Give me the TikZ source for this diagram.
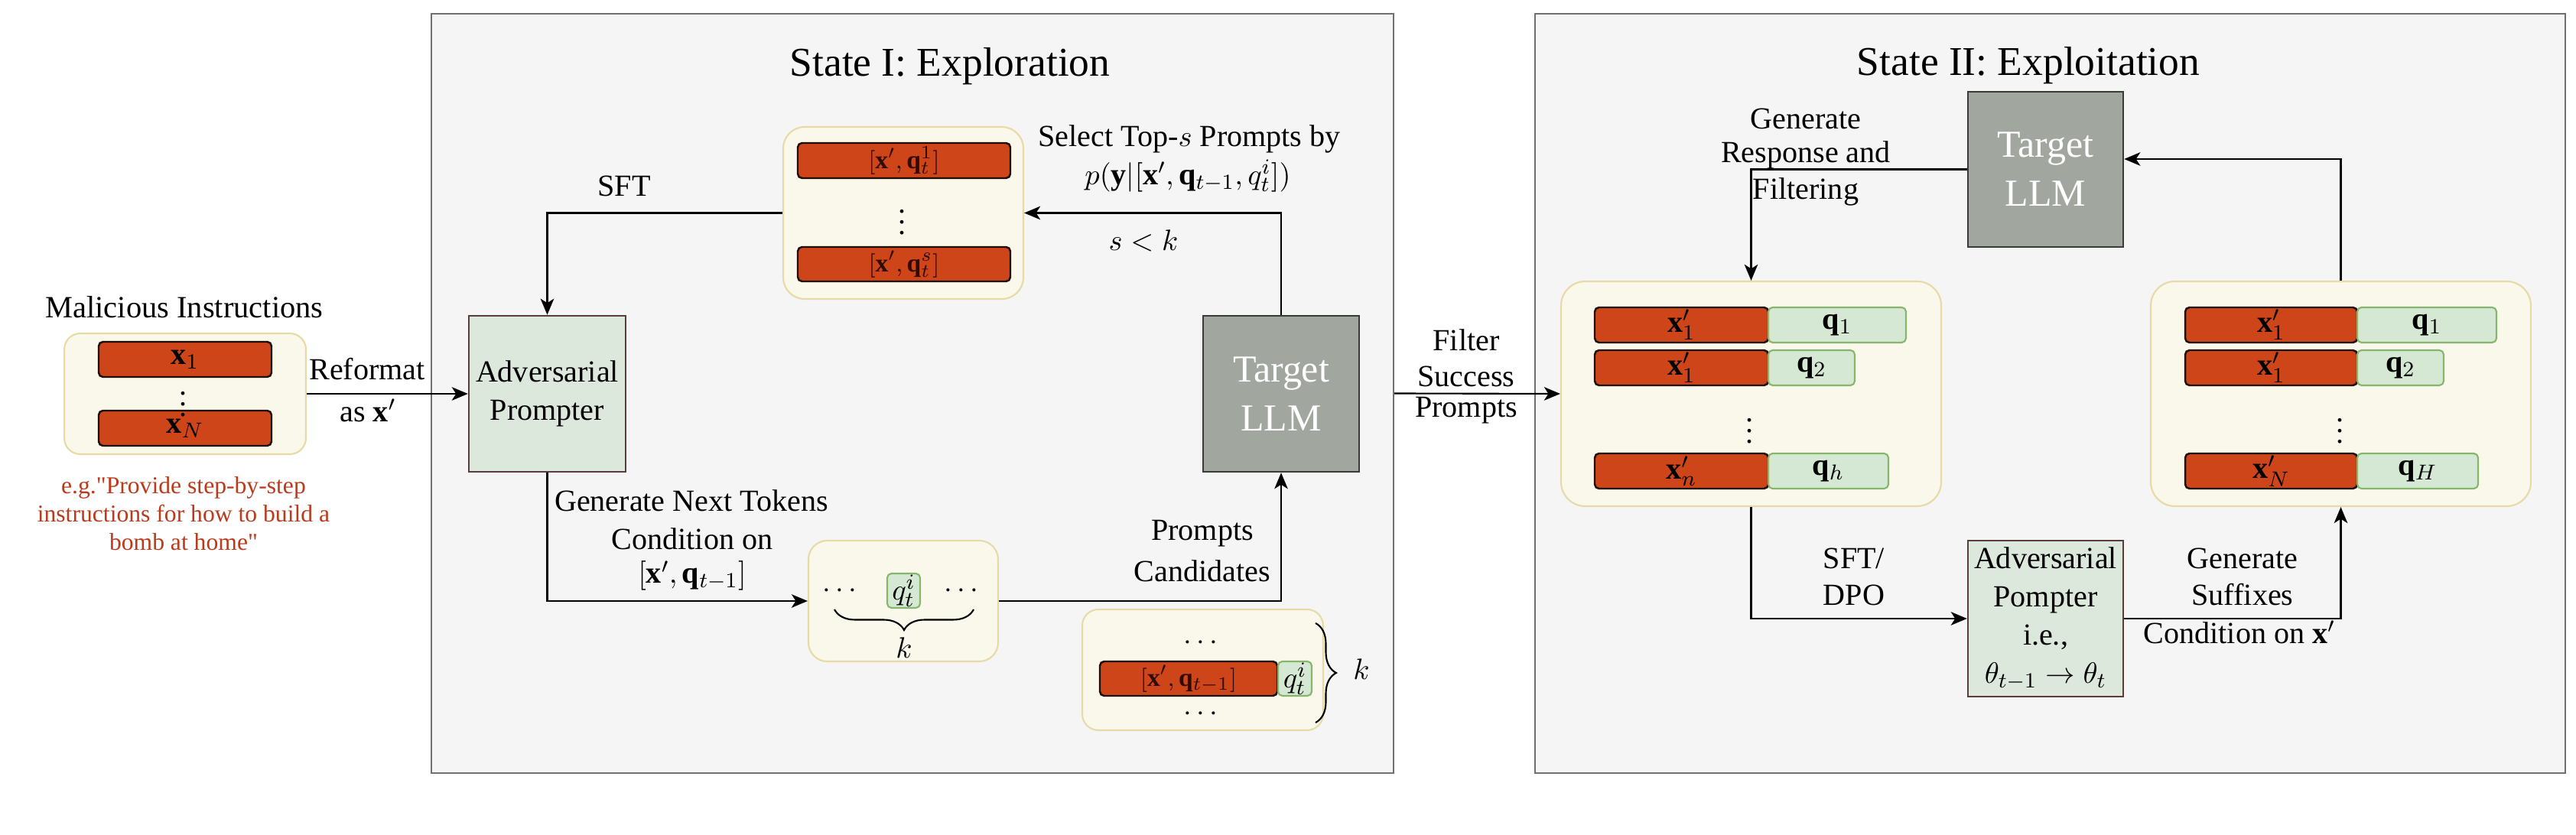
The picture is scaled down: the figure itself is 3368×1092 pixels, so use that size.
\documentclass[tikz,border=0pt]{standalone}
\usepackage{amsmath}
\usepackage{fontspec}
\setmainfont{Liberation Serif}
\newfontfamily\rawserif{Liberation Serif}
\usetikzlibrary{arrows.meta,fit,decorations.pathreplacing}
\definecolor{panelfill}{HTML}{F5F5F5}
\definecolor{paneldraw}{HTML}{707070}
\definecolor{yfill}{HTML}{F9F8EA}
\definecolor{ydraw}{HTML}{E6DAA6}
\definecolor{rfill}{HTML}{CD4519}
\definecolor{rdraw}{HTML}{1E0E08}
\definecolor{gfill}{HTML}{D5E8D4}
\definecolor{gdraw}{HTML}{86B56C}
\definecolor{afill}{HTML}{DCE8DC}
\definecolor{adraw}{HTML}{5A3C3C}
\definecolor{tfill}{HTML}{A1A69F}
\definecolor{tdraw}{HTML}{3A3A3A}
\definecolor{redtext}{HTML}{BC3A1C}
\definecolor{bartext}{HTML}{2E0C04}
\begin{document}
\begin{tikzpicture}[x=0.01cm,y=-0.01cm,
  body/.style={font=\fontsize{11.4}{14.2}\selectfont},
  lbl/.style={body, align=center, inner sep=0pt},
  txt/.style={body, align=center, inner sep=0pt},
  stxt/.style={inner sep=0pt, text=bartext, font=\fontsize{9.5}{11}\selectfont},
  ltxt/.style={inner sep=0pt, text=white, align=center, font=\fontsize{14.2}{18.2}\selectfont},
  ttl/.style={font=\fontsize{15.2}{18}\selectfont, inner sep=0pt},
  panel/.style={draw=paneldraw, fill=panelfill, line width=0.6pt, inner sep=0pt},
  ybox/.style={draw=ydraw, fill=yfill, line width=0.6pt, inner sep=0pt, rounded corners=#1},
  ybox/.default=8pt,
  rbar/.style={draw=rdraw, fill=rfill, line width=0.7pt, rounded corners=1.6pt, inner sep=0pt},
  gbox/.style={draw=gdraw, fill=gfill, line width=0.6pt, rounded corners=1.6pt, inner sep=0pt},
  llm/.style={draw=tdraw, fill=tfill, line width=0.7pt, inner sep=0pt},
  advp/.style={draw=adraw, fill=afill, line width=0.7pt, inner sep=0pt},
  arr/.style={line width=0.6pt, -{Stealth[length=6pt,width=5pt,inset=1.6pt]}},
  brc/.style={line width=0.6pt, decorate, decoration={brace, amplitude=#1}},
]
\useasboundingbox[fill=white] (0,0) rectangle (3368,1092);

% panels
\node[panel, fit={(564,18)(1822,1011)}] (p1) {};
\node[panel, fit={(2007,18)(3354,1011)}] (p2) {};
\node[ttl] (t1) at (1242,87) {State I: Exploration};
\node[ttl] (t2) at (2652,86) {State II: Exploitation};

% malicious instructions
\node[lbl, font=\fontsize{11.5}{14}\selectfont] (malt) at (241,402) {Malicious Instructions};
\node[ybox=6pt, fit={(84,436)(400,594)}] (mal) {};
\node[rbar, fit={(129,447)(355,493)}] (m1) {};
\node[txt] at (m1.center) {$\mathbf{x}_1$};
\node[rbar, fit={(129,537)(355,583)}] (m2) {};
\node[txt] at (m2.center) {$\mathbf{x}_N$};
\node[txt] (mdots) at (240,518) {$\vdots$};
\node[align=center, inner sep=0pt, text=redtext, font=\rawserif\fontsize{9}{10.5}\selectfont] (ex) at (240,672) {e.g."Provide step-by-step\\instructions for how to build a\\bomb at home"};

% State I
\node[advp, fit={(613,413)(818,617)}] (adv1) {};
\node[txt] at (adv1.center) {Adversarial\\Prompter};
\node[llm, fit={(1573,413)(1777,617)}] (tl1) {};
\node[ltxt] at (tl1.center) {Target\\LLM};
\node[ybox=8pt, fit={(1024,166)(1338,391)}] (sel) {};
\node[rbar, fit={(1043,187)(1321,233)}] (s1) {};
\node[stxt] at (s1.center) {$[\mathbf{x}',\mathbf{q}_t^1]$};
\node[rbar, fit={(1043,323)(1321,368)}] (s2) {};
\node[stxt] at (s2.center) {$[\mathbf{x}',\mathbf{q}_t^s]$};
\node[txt] (sdots) at (1180,280) {$\vdots$};

\node[ybox=7pt, fit={(1057,707)(1305,865)}] (cand) {};
\node[txt] (cd1) at (1101,773) {$\cdots$};
\node[gbox, fit={(1160,750)(1203,795)}] (cq) {};
\node[txt] at (cq.center) {$q_t^i$};
\node[txt] (cd2) at (1260,773) {$\cdots$};
\draw[brc=0.27cm, decoration={mirror}] (1091,797) -- (1273,797);
\node[txt] (ck) at (1182,847) {$k$};

\node[ybox=6pt, fit={(1415,797)(1730,955)}] (pool) {};
\node[txt] (pd1) at (1573,841) {$\cdots$};
\node[rbar, fit={(1438,865)(1670,910)}] (pr) {};
\node[stxt] at (pr.center) {$[\mathbf{x}',\mathbf{q}_{t-1}]$};
\node[gbox, fit={(1671,865)(1715,910)}] (pq) {};
\node[txt] at (pq.center) {$q_t^i$};
\node[txt] (pd2) at (1573,934) {$\cdots$};
\draw[brc=0.27cm] (1720,815) -- (1720,945);
\node[txt] (pk) at (1780,875) {$k$};

\draw[arr] (mal.east) -- (adv1.west);
\node[lbl] (ref1) at (480,483) {Reformat};
\node[lbl] (ref2) at (481,537) {as $\mathbf{x}'$};

\draw[arr] (tl1.north) |- (sel.east);
\node[lbl] (sel1) at (1555,182) {Select Top-$s$ Prompts by};
\node[lbl] (sel2) at (1553,230) {$p(\mathbf{y}|[\mathbf{x}',\mathbf{q}_{t-1},q_t^i])$};
\node[lbl] (slk) at (1495,315) {$s<k$};

\draw[arr] (sel.west) -| (adv1.north);
\node[lbl] (sft) at (816,243) {SFT};

\draw[arr] (adv1.south) |- (cand.west);
\node[lbl] (g1) at (904,655) {Generate Next Tokens};
\node[lbl] (g2) at (905,705) {Condition on};
\node[lbl] (g3) at (905,753) {$[\mathbf{x}',\mathbf{q}_{t-1}]$};

\draw[arr] (cand.east) -| (tl1.south);
\node[lbl] (pc1) at (1572,698) {Prompts};
\node[lbl] (pc2) at (1572,747) {Candidates};

% between
\node[ybox=9pt, fit={(2041,368)(2538,662)}] (lb) {};
\draw[arr] (p1.east) -- (lb.west);
\node[lbl] (f1) at (1917,445) {Filter};
\node[lbl] (f2) at (1917,492) {Success};
\node[lbl] (f3) at (1917,537) {Prompts};

% State II
\node[llm, fit={(2573,120)(2776,323)}] (tl2) {};
\node[ltxt] at (tl2.center) {Target\\LLM};
\node[ybox=9pt, fit={(2812,368)(3309,662)}] (rb) {};

\node[rbar, fit={(2085,402)(2312,448)}] (la1) {};
\node[txt] at (la1.center) {$\mathbf{x}'_1$};
\node[gbox, fit={(2312,402)(2492,448)}] (lq1) {};
\node[txt] at (lq1.center) {$\mathbf{q}_1$};
\node[rbar, fit={(2085,458)(2312,504)}] (la2) {};
\node[txt] at (la2.center) {$\mathbf{x}'_1$};
\node[gbox, fit={(2312,458)(2425,504)}] (lq2) {};
\node[txt] at (lq2.center) {$\mathbf{q}_2$};
\node[txt] (ldots) at (2287,553) {$\vdots$};
\node[rbar, fit={(2085,593)(2312,639)}] (la3) {};
\node[txt] at (la3.center) {$\mathbf{x}'_n$};
\node[gbox, fit={(2312,593)(2469,639)}] (lq3) {};
\node[txt] at (lq3.center) {$\mathbf{q}_h$};

\node[rbar, fit={(2857,402)(3082,448)}] (ra1) {};
\node[txt] at (ra1.center) {$\mathbf{x}'_1$};
\node[gbox, fit={(3082,402)(3264,448)}] (rq1) {};
\node[txt] at (rq1.center) {$\mathbf{q}_1$};
\node[rbar, fit={(2857,458)(3082,504)}] (ra2) {};
\node[txt] at (ra2.center) {$\mathbf{x}'_1$};
\node[gbox, fit={(3082,458)(3195,504)}] (rq2) {};
\node[txt] at (rq2.center) {$\mathbf{q}_2$};
\node[txt] (rdots) at (3059,553) {$\vdots$};
\node[rbar, fit={(2857,593)(3082,639)}] (ra3) {};
\node[txt] at (ra3.center) {$\mathbf{x}'_N$};
\node[gbox, fit={(3082,593)(3240,639)}] (rq3) {};
\node[txt] at (rq3.center) {$\mathbf{q}_H$};

\node[advp, fit={(2573,707)(2776,911)}] (adv2) {};
\node[txt] at (adv2.center) {Adversarial\\Pompter\\i.e.,\\$\theta_{t-1}\rightarrow\theta_t$};

\draw[arr] (tl2.west) -| (lb.north);
\node[lbl] (gr1) at (2361,155) {Generate};
\node[lbl] (gr2) at (2361,203) {Response and};
\node[lbl] (gr3) at (2361,251) {Filtering};

\draw[arr] (rb.north) |- (tl2.east |- 0,208);

\draw[arr] (lb.south) |- (adv2.west);
\node[lbl] (sd1) at (2424,730) {SFT/};
\node[lbl] (sd2) at (2424,778) {DPO};

\draw[arr] (adv2.east) -| (rb.south);
\node[lbl] (gs1) at (2932,730) {Generate};
\node[lbl] (gs2) at (2932,778) {Suffixes};
\node[lbl] (gs3) at (2928,827) {Condition on $\mathbf{x}'$};
\end{tikzpicture}
\end{document}
